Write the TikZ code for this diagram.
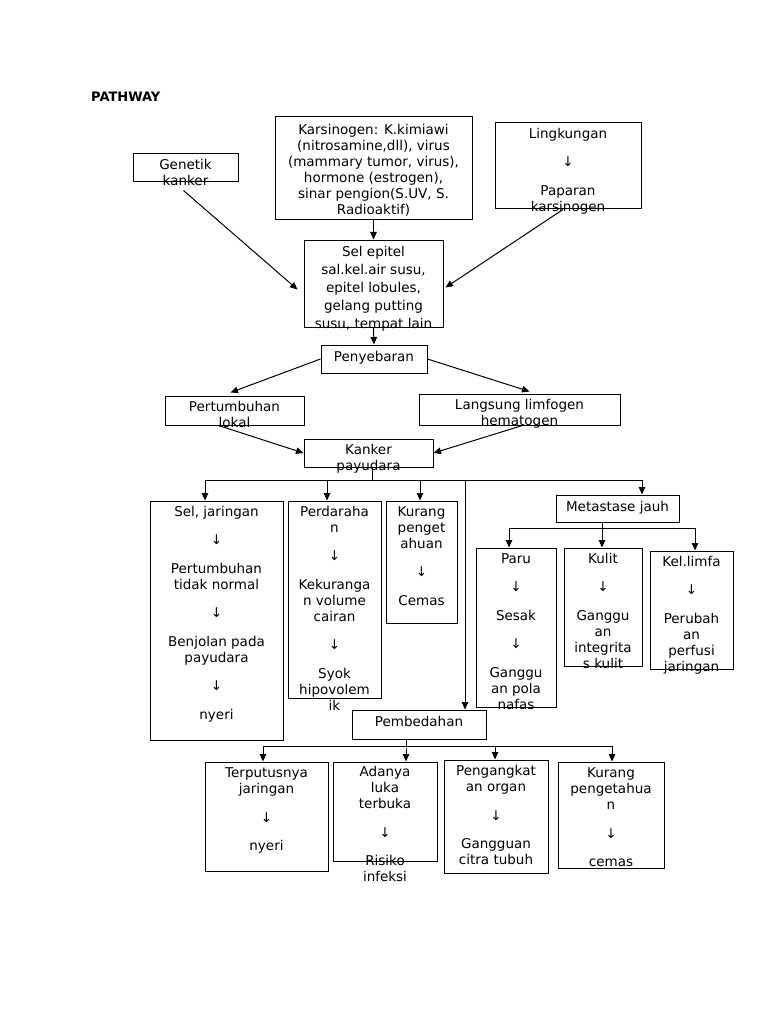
\documentclass[tikz,border=0pt]{standalone}
\usepackage{fontspec}
\setmainfont{DejaVu Sans}
\usepackage{tikz}
\usetikzlibrary{positioning, arrows.meta, fit}
\tikzstyle{box}=[draw=black, line width=1pt, inner sep=0pt]
\tikzstyle{txt}=[font=\fontsize{13.5}{16}\selectfont, align=center, inner sep=0pt]
\tikzstyle{arrow}=[-{Triangle[length=7.5pt,width=6.5pt]}, line width=1pt, draw=black]
\newcommand{\gap}{\\[12.5pt]}

\begin{document}
\begin{tikzpicture}[x=1pt, y=-1pt]
  \fill[white] (0,0) rectangle (768,1024);
  \useasboundingbox (0,0) rectangle (768,1024);

  \node[font=\bfseries\fontsize{13}{15}\selectfont, anchor=west, inner sep=0pt] (judul) at (91,97) {PATHWAY};

  % boxes
  \node[box, fit={(133,154) (238,182)}] (genetik) {};
  \node[box, fit={(275,117) (472,220)}] (karsinogen) {};
  \node[box, fit={(495,123) (641,209)}] (lingkungan) {};
  \node[box, fit={(304,240) (443,327)}] (selepitel) {};
  \node[box, fit={(321,345) (427,373)}] (penyebaran) {};
  \node[box, fit={(165,396) (304,425)}] (pertumbuhan) {};
  \node[box, fit={(419,394) (620,425)}] (langsung) {};
  \node[box, fit={(304,439) (433,467)}] (kanker) {};
  \node[box, fit={(150,501) (283,740)}] (seljar) {};
  \node[box, fit={(288,501) (381,698)}] (perdarahan) {};
  \node[box, fit={(386,501) (457,623)}] (kurang) {};
  \node[box, fit={(556,495) (679,522)}] (metastase) {};
  \node[box, fit={(476,548) (556,707)}] (paru) {};
  \node[box, fit={(564,548) (642,666)}] (kulit) {};
  \node[box, fit={(650,551) (733,669)}] (kellimfa) {};
  \node[box, fit={(352,710) (486,739)}] (pembedahan) {};
  \node[box, fit={(205,762) (328,871)}] (terputus) {};
  \node[box, fit={(333,762) (437,861)}] (adanya) {};
  \node[box, fit={(444,760) (548,873)}] (pengangkatan) {};
  \node[box, fit={(558,762) (664,868)}] (kurangtahu) {};

  % texts
  \node[txt, below=5.5pt of genetik.north] (genetikT) {Genetik\\kanker};
  \node[txt, below=8pt of karsinogen.north] (karsinogenT) {Karsinogen: K.kimiawi\\(nitrosamine,dll), virus\\(mammary tumor, virus),\\hormone (estrogen),\\sinar pengion(S.UV, S.\\Radioaktif)};
  \node[txt, below=5.5pt of lingkungan.north] (lingkunganT) {Lingkungan\gap ↓\gap Paparan\\karsinogen};
  \node[txt, font=\fontsize{13.5}{18}\selectfont, below=6.5pt of selepitel.north] (selepitelT) {Sel epitel\\sal.kel.air susu,\\epitel lobules,\\gelang putting\\susu, tempat lain};
  \node[txt, below=6.5pt of penyebaran.north] (penyebaranT) {Penyebaran};
  \node[txt, below=6pt of pertumbuhan.north] (pertumbuhanT) {Pertumbuhan\\lokal};
  \node[txt, below=6pt of langsung.north] (langsungT) {Langsung limfogen\\hematogen};
  \node[txt, below=6pt of kanker.north] (kankerT) {Kanker\\payudara};
  \node[txt, below=5.5pt of seljar.north] (seljarT) {Sel, jaringan\gap ↓\gap Pertumbuhan\\tidak normal\gap ↓\gap Benjolan pada\\payudara\gap ↓\gap nyeri};
  \node[txt, below=5.5pt of perdarahan.north] (perdarahanT) {Perdaraha\\n\gap ↓\gap Kekuranga\\n volume\\cairan\gap ↓\gap Syok\\hipovolem\\ik};
  \node[txt, below=5.5pt of kurang.north] (kurangT) {Kurang\\penget\\ahuan\gap ↓\gap Cemas};
  \node[txt, below=7pt of metastase.north] (metastaseT) {Metastase jauh};
  \node[txt, below=5.5pt of paru.north] (paruT) {Paru\gap ↓\gap Sesak\gap ↓\gap Ganggu\\an pola\\nafas};
  \node[txt, below=5.5pt of kulit.north] (kulitT) {Kulit\gap ↓\gap Ganggu\\an\\integrita\\s kulit};
  \node[txt, below=5.5pt of kellimfa.north] (kellimfaT) {Kel.limfa\gap ↓\gap Perubah\\an\\perfusi\\jaringan};
  \node[txt, below=6.5pt of pembedahan.north] (pembedahanT) {Pembedahan};
  \node[txt, below=6pt of terputus.north] (terputusT) {Terputusnya\\jaringan\gap ↓\gap nyeri};
  \node[txt, below=5pt of adanya.north] (adanyaT) {Adanya\\luka\\terbuka\gap ↓\gap Risiko\\infeksi};
  \node[txt, below=6pt of pengangkatan.north] (pengangkatanT) {Pengangkat\\an organ\gap ↓\gap Gangguan\\citra tubuh};
  \node[txt, below=6pt of kurangtahu.north] (kurangtahuT) {Kurang\\pengetahua\\n\gap ↓\gap cemas};

  % connectors
  \draw[arrow] (karsinogen.south) -- (selepitel.north);
  \draw[arrow] ([xshift=-2pt,yshift=-8pt]genetik.south) -- ([xshift=-6pt,yshift=-6pt]selepitel.west);
  \draw[arrow] ([xshift=-5pt]lingkungan.south) -- ([xshift=2pt,yshift=-4pt]selepitel.east);
  \draw[arrow] (selepitel.south) -- (penyebaran.north);
  \draw[arrow] (penyebaran.west) -- ([xshift=-4pt,yshift=3pt]pertumbuhan.north);
  \draw[arrow] (penyebaran.east) -- ([xshift=10pt,yshift=2pt]langsung.north);
  \draw[arrow] ([xshift=-16pt]pertumbuhan.south) -- (kanker.west);
  \draw[arrow] ([xshift=3pt]langsung.south) -- (kanker.east);

  \draw[arrow] ([xshift=3.5pt]kanker.south) -- ++(0,13) -| ([xshift=-11.5pt]seljar.north);
  \draw[arrow] ([xshift=3.5pt]kanker.south) -- ++(0,13) -| ([xshift=-7.5pt]perdarahan.north);
  \draw[arrow] ([xshift=3.5pt]kanker.south) -- ++(0,13) -| ([xshift=-1.5pt]kurang.north);
  \draw[arrow] ([xshift=3.5pt]kanker.south) -- ++(0,13) -| ([xshift=46pt]pembedahan.north);
  \draw[arrow] ([xshift=3.5pt]kanker.south) -- ++(0,13) -| ([xshift=24.5pt]metastase.north);

  \draw[arrow] ([xshift=-15.5pt]metastase.south) -- ++(0,6) -| ([xshift=-7pt]paru.north);
  \draw[arrow] ([xshift=-15.5pt]metastase.south) -- ++(0,6) -| ([xshift=-1pt]kulit.north);
  \draw[arrow] ([xshift=-15.5pt]metastase.south) -- ++(0,6) -| ([xshift=3.5pt]kellimfa.north);

  \draw[arrow] ([xshift=-13pt]pembedahan.south) -- ++(0,7) -| ([xshift=-3.5pt]terputus.north);
  \draw[arrow] ([xshift=-13pt]pembedahan.south) -- ++(0,7) -| ([xshift=21pt]adanya.north);
  \draw[arrow] ([xshift=-13pt]pembedahan.south) -- ++(0,7) -| ([xshift=-1pt]pengangkatan.north);
  \draw[arrow] ([xshift=-13pt]pembedahan.south) -- ++(0,7) -| ([xshift=1pt]kurangtahu.north);
\end{tikzpicture}
\end{document}
